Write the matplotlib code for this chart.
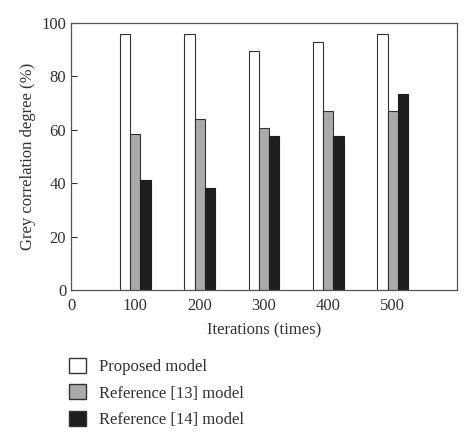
import matplotlib
matplotlib.use("Agg")
import matplotlib.pyplot as plt
import numpy as np
from matplotlib.patches import Patch

iterations = [100, 200, 300, 400, 500]
proposed = [96, 96, 89.4, 92.9, 96]
ref13 = [58.4, 64.0, 60.5, 66.9, 66.9]
ref14 = [41.3, 38.1, 57.6, 57.6, 73.3]
labels = ["Proposed model", "Reference [13] model", "Reference [14] model"]

plt.rcParams['font.family'] = ['Liberation Serif', 'DejaVu Serif']

fig = plt.figure(figsize=(4.74, 4.43), dpi=100)
ax = fig.add_axes([71/474, 1-290/443, (457-71)/474, (290-23)/443])

x = np.array(iterations, dtype=float)
w = 16
ax.bar(x - w, proposed, width=w, color='white', edgecolor='#333333', linewidth=0.8)
ax.bar(x, ref13, width=w, color='#aaaaaa', edgecolor='#333333', linewidth=0.8)
ax.bar(x + w, ref14, width=w, color='#1e1e1e', edgecolor='#1e1e1e', linewidth=0.8)

ax.set_xlim(0, 600)
ax.set_ylim(0, 100)
ax.set_xticks([0, 100, 200, 300, 400, 500])
ax.set_yticks([0, 20, 40, 60, 80, 100])
ax.tick_params(axis='x', length=0, labelsize=12, pad=6, colors='#333333')
ax.tick_params(axis='y', direction='in', length=4, labelsize=12, colors='#333333')
for s in ax.spines.values():
    s.set_color('#555555')
    s.set_linewidth(0.9)
ax.set_xlabel("Iterations (times)", fontsize=12, color='#333333', labelpad=6)
ax.set_ylabel("Grey correlation degree (%)", fontsize=12, color='#333333', labelpad=4)

handles = [Patch(facecolor='white', edgecolor='#333333'),
           Patch(facecolor='#aaaaaa', edgecolor='#333333'),
           Patch(facecolor='#1e1e1e', edgecolor='#333333')]
fig.legend(handles, labels, loc='upper left', bbox_to_anchor=(54/474, 1-343/443),
           frameon=False, fontsize=12, handlelength=1.0, handleheight=1.0,
           handletextpad=0.8, labelspacing=0.55, labelcolor='#333333')

fig.savefig("out.png", dpi=100)
